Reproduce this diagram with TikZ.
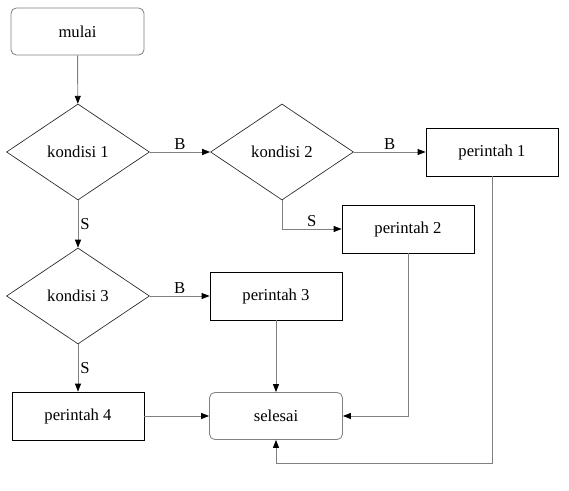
\documentclass[tikz,border=0pt]{standalone}
\usepackage{fontspec}
\setmainfont{Liberation Serif}
\usetikzlibrary{shapes.geometric,arrows.meta}
\begin{document}
\begin{tikzpicture}[x=0.75pt,y=-0.75pt,
  every node/.style={font=\rmfamily\fontsize{12.5}{15}\selectfont},
  terminal/.style={draw=gray,rounded corners=4pt,line width=0.6pt,minimum width=99.75pt,minimum height=35.25pt},
  process/.style={draw=black,line width=0.6pt,minimum width=99pt,minimum height=36pt},
  decision/.style={shape=diamond,draw=black!85,line width=0.5pt,inner sep=0pt,minimum width=107.25pt,minimum height=72pt},
  flow/.style={draw=gray,line width=0.7pt,-{Triangle[black,length=6pt,width=4.5pt]}},
  lbl/.style={inner sep=1.5pt}]
\useasboundingbox (0,0) rectangle (569,491);
\node[terminal] (mulai) at (77.5,31.5) {mulai};
\node[decision] (k1) at (78,152) {kondisi 1};
\node[decision] (k2) at (282,152) {kondisi 2};
\node[process] (p1) at (492,152) {perintah 1};
\node[process] (p2) at (408,229) {perintah 2};
\node[decision] (k3) at (78,296) {kondisi 3};
\node[process] (p3) at (276,296) {perintah 3};
\node[process] (p4) at (78,416) {perintah 4};
\node[terminal] (sel) at (276,416) {selesai};
\coordinate (c1) at (492,463);
\path [flow] (mulai) -- (k1);
\path [flow] (k1) -- node[lbl,above] {B} (k2);
\path [flow] (k2) -- node[lbl,above] {B} (p1);
\path [flow] (k1) -- node[lbl,right] {S} (k3);
\path [flow] (k2.south) |- node[lbl,pos=0.75,above] {S} (p2.west);
\path [flow] (k3) -- node[lbl,above] {B} (p3);
\path [flow] (k3) -- node[lbl,right] {S} (p4);
\path [flow] (p3) -- (sel);
\path [flow] (p4) -- (sel);
\path [flow] (p2.south) |- (sel.east);
\path [flow] (p1.south) -- (c1) -| (sel.south);
\end{tikzpicture}
\end{document}
